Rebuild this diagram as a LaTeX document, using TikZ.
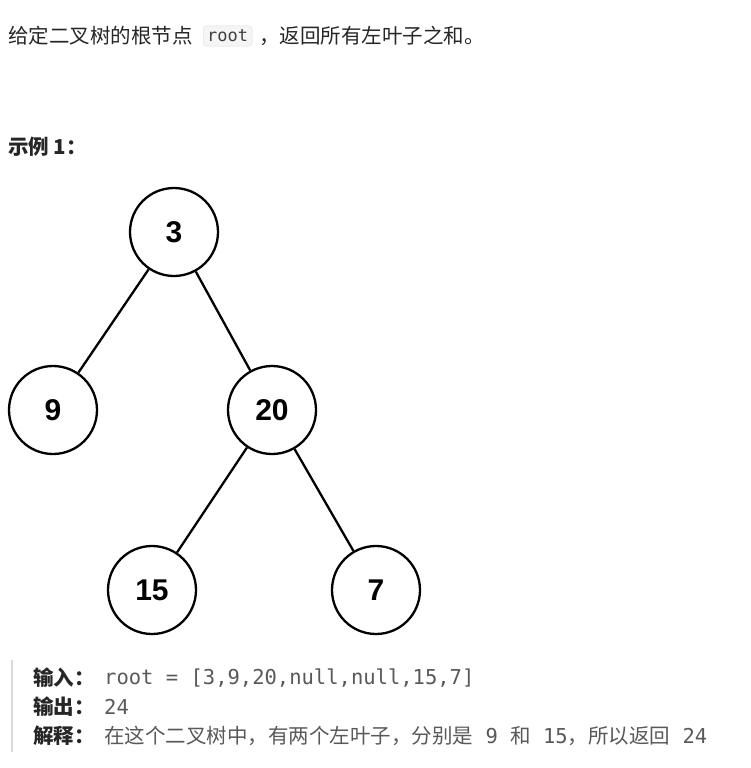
\documentclass[tikz,border=0pt]{standalone}
\usepackage{fontspec}
\setmainfont{Liberation Sans}
\newfontfamily\cjk{Noto Sans CJK SC}
\setmonofont{DejaVu Sans Mono}
\begin{document}
\begin{tikzpicture}[x=1pt,y=-1pt,
  tn/.style={circle,draw,line width=2.3pt,minimum size=88pt,inner sep=0pt,font=\fontsize{30}{30}\selectfont\bfseries},
  ed/.style={line width=2.3pt},
  txt/.style={anchor=west,inner sep=0pt,font=\cjk\fontsize{20.5}{24}\selectfont,text=black!85},
  lab/.style={anchor=west,inner sep=0pt,font=\cjk\fontsize{20.5}{24}\selectfont\bfseries,text=black!85},
  val/.style={anchor=west,inner sep=0pt,font=\ttfamily\fontsize{20.5}{24}\selectfont,text=black!65}]
\path[use as bounding box,fill=white] (0,0) rectangle (751,768);
\node[txt] (t1) at (8,36) {给定二叉树的根节点};
\node[draw=black!12,fill=black!4,rounded corners=3pt,inner xsep=4pt,inner ysep=4pt,anchor=west,font=\ttfamily\fontsize{17}{19}\selectfont,text=black!75] (code) at (203,36) {root};
\node[txt] (t2) at (259,36) {，返回所有左叶子之和。};
\node[lab] (ex) at (8,147) {示例 1：};
\begin{scope}
\clip (0,150) rectangle (422,640);
\node[tn] (n3) at (174,232) {3};
\node[tn] (n9) at (53,410) {9};
\node[tn] (n20) at (272,410) {20};
\node[tn] (n15) at (152,590) {15};
\node[tn] (n7) at (376,590) {7};
\draw[ed] (n3) -- (n9);
\draw[ed] (n3) -- (n20);
\draw[ed] (n20) -- (n15);
\draw[ed] (n20) -- (n7);
\end{scope}
\coordinate (bt) at (12,660);
\coordinate (bb) at (12,752);
\draw[line width=2pt,black!15] (bt) -- (bb);
\node[lab] (l1) at (33,678) {输入：};
\node[val] (v1) at (104,678) {root = [3,9,20,null,null,15,7]};
\node[lab] (l2) at (33,707) {输出：};
\node[val] (v2) at (104,707) {24};
\node[lab] (l3) at (33,736) {解释：};
\node[anchor=west,inner sep=0pt,font=\cjk\fontsize{20.5}{24}\selectfont,text=black!65] (v3) at (104,736) {在这个二叉树中，有两个左叶子，分别是{\ttfamily\ 9 }和{\ttfamily\ 15}，所以返回{\ttfamily\ 24}};
\end{tikzpicture}
\end{document}
